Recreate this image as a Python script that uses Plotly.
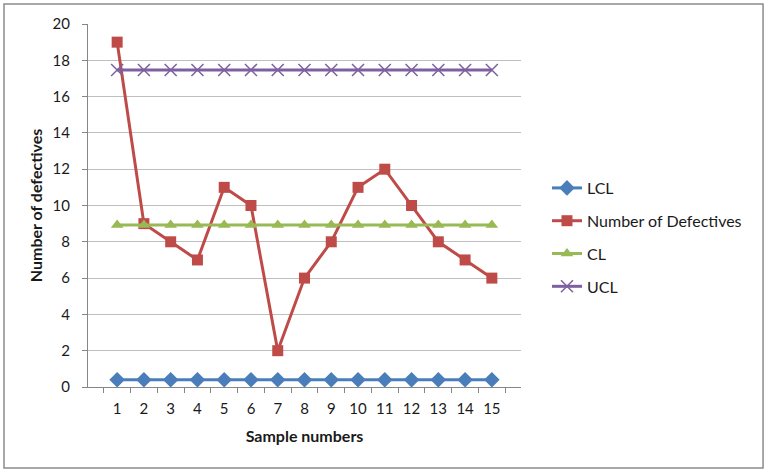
import plotly.graph_objects as go

# sample numbers and chart values
samples = [str(i) for i in range(1, 16)]
defectives = [19, 9, 8, 7, 11, 10, 2, 6, 8, 11, 12, 10, 8, 7, 6]
lcl = [0.4] * 15
cl = [8.93] * 15
ucl = [17.47] * 15

font_name = "Lato, 'Noto Sans', sans-serif"

fig = go.Figure()
fig.add_trace(go.Scatter(x=samples, y=lcl, name="LCL", mode="lines+markers",
                         line=dict(color="#4A7EBB", width=3),
                         marker=dict(symbol="diamond", size=12, color="#4A7EBB"),
                         legendgroup="a"))
fig.add_trace(go.Scatter(x=samples, y=defectives, name="Number of Defectives", mode="lines+markers",
                         line=dict(color="#BE4B48", width=3),
                         marker=dict(symbol="square", size=11, color="#BE4B48"),
                         legendgroup="b"))
fig.add_trace(go.Scatter(x=samples, y=cl, name="CL", mode="lines+markers",
                         line=dict(color="#98B954", width=3),
                         marker=dict(symbol="triangle-up", size=11, color="#98B954"),
                         legendgroup="c"))
fig.add_trace(go.Scatter(x=samples, y=ucl, name="UCL", mode="lines+markers",
                         line=dict(color="#7D60A0", width=3),
                         marker=dict(symbol="x-thin-open", size=12, line=dict(color="#7D60A0", width=1.5)),
                         legendgroup="d"))

fig.update_layout(
    width=768, height=472,
    margin=dict(l=88, r=247, t=24, b=85),
    paper_bgcolor="white", plot_bgcolor="white",
    font=dict(family=font_name, size=15, color="#1a1a1a"),
    showlegend=True,
    legend=dict(x=1.06, y=0.595, xanchor="left", yanchor="top",
                tracegroupgap=9, font=dict(size=16), itemwidth=30),
    xaxis=dict(type="category", title=dict(text="<b>Sample numbers</b>", font=dict(size=16), standoff=14),
               showline=True, linecolor="#868686", ticks="outside", tickson="boundaries",
               ticklen=5, tickcolor="#868686", showgrid=False, ticklabelstandoff=8),
    yaxis=dict(range=[0, 20], dtick=2, title=dict(text="<b>Number of defectives</b>", font=dict(size=16), standoff=5),
               showline=True, linecolor="#868686", ticks="outside", ticklen=5, tickcolor="#868686",
               showgrid=True, gridcolor="#BFBFBF", zeroline=False, ticklabelstandoff=9),
    shapes=[dict(type="rect", xref="paper", yref="paper",
                 x0=-0.194, x1=1.559, y0=-0.223, y1=1.055,
                 line=dict(color="#8C8C8C", width=1.5))],
)

fig.write_html("out.html", config={"displayModeBar": False},
               post_script="document.body.style.margin='0';")
